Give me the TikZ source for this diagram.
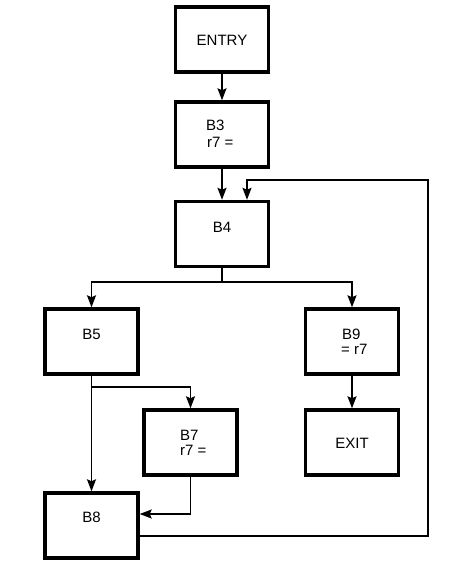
\documentclass[tikz,border=0pt]{standalone}
\usepackage{fontspec}
\setmainfont{Liberation Sans}
\usetikzlibrary{arrows.meta}
\begin{document}
\begin{tikzpicture}[x=1pt,y=-1pt,
  blk/.style={draw,line width=3.4pt,minimum width=93pt,minimum height=65pt,inner sep=0pt},
  lbl/.style={inner sep=0pt,font=\fontsize{15}{16}\selectfont},
  conn/.style={line width=1.7pt,-{Stealth[length=12pt,width=9pt,inset=2pt]}},
  wire/.style={line width=1.7pt}]
\useasboundingbox (0,0) rectangle (474,567);
% boxes
\node[blk] (entry) at (222,39.5) {};
\node[blk] (b3) at (222,134.5) {};
\node[blk] (b4) at (222,234) {};
\node[blk] (b5) at (91.5,341.5) {};
\node[blk] (b9) at (352,341.5) {};
\node[blk] (b7) at (190.5,442.5) {};
\node[blk] (exit) at (352,442.5) {};
\node[blk] (b8) at (91.5,525.5) {};
% labels
\node[lbl,anchor=base] (tentry) at (222,46) {ENTRY};
\node[lbl,anchor=base west] (tb3a) at (206,131) {B3};
\node[lbl,anchor=base west] (tb3b) at (207,147) {r7 =};
\node[lbl,anchor=base] (tb4) at (222,232) {B4};
\node[lbl,anchor=base] (tb5) at (91.5,339) {B5};
\node[lbl,anchor=base west] (tb9a) at (342,339) {B9};
\node[lbl,anchor=base west] (tb9b) at (341,354) {= r7};
\node[lbl,anchor=base west] (tb7a) at (180,440) {B7};
\node[lbl,anchor=base west] (tb7b) at (180,455) {r7 =};
\node[lbl,anchor=base] (texit) at (352,448) {EXIT};
\node[lbl,anchor=base] (tb8) at (91.5,522) {B8};
% helper coordinates
\coordinate (split) at (222,282);
\coordinate (sp2) at (92,387);
\coordinate (b7turn) at (191,514);
\coordinate (loopA) at (428,536);
\coordinate (loopB) at (428,180);
\coordinate (loopC) at (247,180);
% connectors
\draw[conn] (entry.south) -- (b3.north);
\draw[conn] (b3.south) -- (b4.north);
\draw[wire] (b4.south) -- (split);
\draw[conn] (split) -| (b5.north);
\draw[conn] (split) -| (b9.north);
\draw[conn] (b9.south) -- (exit.north);
\draw[conn] (b5.south) -- (b8.north);
\draw[conn] (sp2) -| (b7.north);
\draw[conn] (b7.south) |- (b8.east |- b7turn);
\draw[conn] (b8.east |- loopA) -- (loopA) -- (loopB) -- (loopC) -- (b4.north -| loopC);
\end{tikzpicture}
\end{document}
